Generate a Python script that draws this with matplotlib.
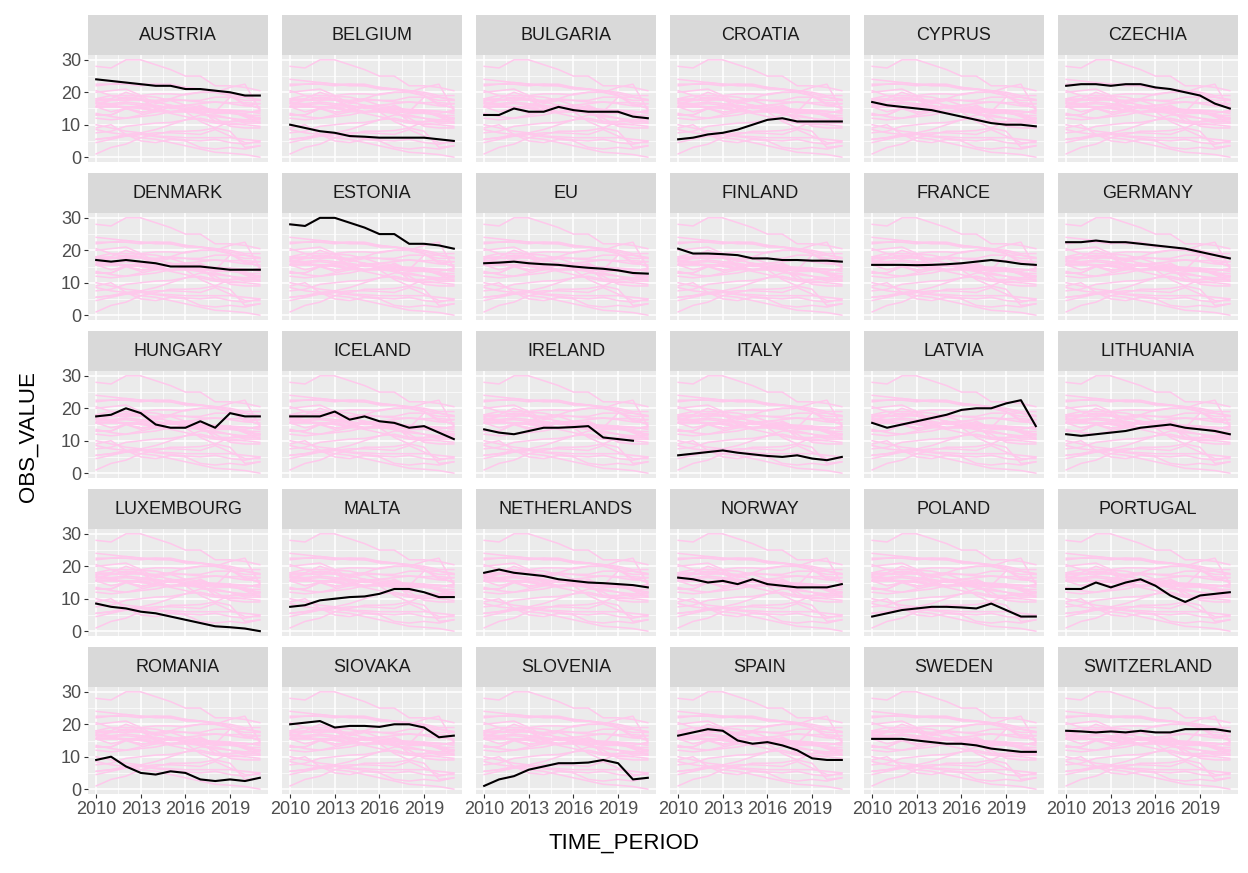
import matplotlib.pyplot as plt
import numpy as np

years = list(range(2010, 2022))
countries = ["AUSTRIA", "BELGIUM", "BULGARIA", "CROATIA", "CYPRUS", "CZECHIA",
             "DENMARK", "ESTONIA", "EU", "FINLAND", "FRANCE", "GERMANY",
             "HUNGARY", "ICELAND", "IRELAND", "ITALY", "LATVIA", "LITHUANIA",
             "LUXEMBOURG", "MALTA", "NETHERLANDS", "NORWAY", "POLAND", "PORTUGAL",
             "ROMANIA", "SIOVAKA", "SLOVENIA", "SPAIN", "SWEDEN", "SWITZERLAND"]
values = [
    [24, 23.5, 23, 22.5, 22, 22, 21, 21, 20.5, 20, 19, 19],
    [10, 9, 8, 7.5, 6.5, 6.3, 6, 6, 6, 6, 5.5, 5],
    [13, 13, 15, 14, 14, 15.5, 14.5, 14, 14, 14, 12.5, 12],
    [5.5, 6, 7, 7.5, 8.5, 10, 11.5, 12, 11, 11, 11, 11],
    [17, 16, 15.5, 15, 14.5, 13.5, 12.5, 11.5, 10.5, 10, 10, 9.5],
    [22, 22.5, 22.5, 22, 22.5, 22.5, 21.5, 21, 20, 19, 16.5, 15],
    [17, 16.5, 17, 16.5, 16, 15, 15, 15, 14.5, 14, 14, 14],
    [28, 27.5, 30, 30, 28.5, 27, 25, 25, 22, 22, 21.5, 20.5],
    [16, 16.2, 16.5, 16, 15.7, 15.5, 15, 14.6, 14.3, 13.8, 13, 12.8],
    [20.5, 19, 19, 18.8, 18.5, 17.5, 17.5, 17, 17, 16.8, 16.8, 16.5],
    [15.5, 15.5, 15.5, 15.4, 15.5, 15.7, 16, 16.5, 17, 16.5, 15.8, 15.5],
    [22.5, 22.5, 23, 22.5, 22.5, 22, 21.5, 21, 20.5, 19.5, 18.5, 17.5],
    [17.5, 18, 20, 18.5, 15, 14, 14, 16, 14, 18.5, 17.5, 17.5],
    [17.5, 17.5, 17.5, 19, 16.5, 17.5, 16, 15.5, 14, 14.5, 12.5, 10.5],
    [13.5, 12.5, 12, 13, 14, 14, 14.2, 14.5, 11, 10.5, 10, np.nan],
    [5.5, 6, 6.5, 7, 6.3, 5.8, 5.3, 5, 5.5, 4.5, 4, 5],
    [15.5, 14, 15, 16, 17, 18, 19.5, 20, 20, 21.5, 22.5, 14.5],
    [12, 11.5, 12, 12.5, 13, 14, 14.5, 15, 14, 13.5, 13, 12],
    [8.5, 7.5, 7, 6, 5.5, 4.5, 3.5, 2.5, 1.5, 1.2, 0.8, 0],
    [7.5, 8, 9.5, 10, 10.5, 10.7, 11.5, 13, 13, 12, 10.5, 10.5],
    [18, 19, 18, 17.5, 17, 16, 15.5, 15, 14.8, 14.5, 14.2, 13.5],
    [16.5, 16, 15, 15.5, 14.5, 16, 14.5, 14, 13.5, 13.5, 13.5, 14.5],
    [4.5, 5.5, 6.5, 7, 7.5, 7.5, 7.3, 7, 8.5, 6.5, 4.5, 4.5],
    [13, 13, 15, 13.5, 15, 16, 14, 11, 9, 11, 11.5, 12],
    [9, 10, 7, 5, 4.5, 5.5, 5, 3, 2.5, 3, 2.5, 3.5],
    [20, 20.5, 21, 19, 19.5, 19.5, 19.2, 20, 20, 19, 16, 16.5],
    [1, 3, 4, 6, 7, 8, 8, 8.2, 9, 8, 3, 3.5],
    [16.5, 17.5, 18.5, 18, 15, 14, 14.5, 13.5, 12, 9.5, 9, 9],
    [15.5, 15.5, 15.5, 15, 14.5, 14, 14, 13.5, 12.5, 12, 11.5, 11.5],
    [18, 17.8, 17.5, 17.8, 17.5, 18, 17.5, 17.5, 18.5, 18.5, 18.5, 17.8],
]

W, H = 1248, 873
fig = plt.figure(figsize=(W / 100, H / 100), dpi=100)
plt.rcParams['font.family'] = 'Liberation Sans'

for i, name in enumerate(countries):
    r, c = divmod(i, 6)
    left = 88 + c * 194
    top = 15 + r * 158
    sax = fig.add_axes([left / W, 1 - (top + 40) / H, 180 / W, 40 / H])
    sax.set_facecolor('#D9D9D9')
    sax.set_xticks([]); sax.set_yticks([])
    for s in sax.spines.values():
        s.set_visible(False)
    sax.text(0.5, 0.5, name, ha='center', va='center', fontsize=13, color='#1A1A1A')

    ax = fig.add_axes([left / W, 1 - (top + 40 + 107) / H, 180 / W, 107 / H])
    ax.set_facecolor('#EBEBEB')
    for s in ax.spines.values():
        s.set_visible(False)
    for v in values:
        ax.plot(years, v, color='#FFC8EC', lw=1.1, zorder=2)
    ax.plot(years, values[i], color='black', lw=1.5, zorder=3)
    ax.set_xlim(2010 - 0.55, 2021 + 0.55)
    ax.set_ylim(-1.5, 31.5)
    ax.set_xticks([2010, 2013, 2016, 2019])
    ax.set_xticks([2011.5, 2014.5, 2017.5, 2020.5], minor=True)
    ax.set_yticks([0, 10, 20, 30])
    ax.set_yticks([5, 15, 25], minor=True)
    ax.grid(True, which='major', color='white', lw=1.1, zorder=1)
    ax.grid(True, which='minor', color='white', lw=0.5, zorder=1)
    ax.set_axisbelow(True)
    ax.tick_params(which='both', length=3, color='#333333', labelsize=13, labelcolor='#4D4D4D', pad=2)
    ax.tick_params(which='minor', length=0)
    if c != 0:
        ax.set_yticklabels([])
        ax.tick_params(axis='y', length=0)
    if r != 4:
        ax.set_xticklabels([])
        ax.tick_params(axis='x', length=0)

fig.text(0.5, 1 - 843 / H, 'TIME_PERIOD', ha='center', va='center', fontsize=16)
fig.text(28 / W, 0.5, 'OBS_VALUE', ha='center', va='center', rotation=90, fontsize=16)
fig.savefig('out.png', dpi=100)
